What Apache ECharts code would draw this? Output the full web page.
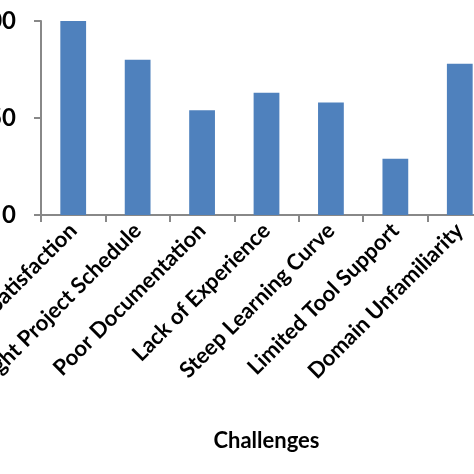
<!DOCTYPE html>
<html>
<head>
<meta charset="utf-8">
<script src="https://cdn.jsdelivr.net/npm/echarts@6/dist/echarts.min.js"></script>
<style>html,body{margin:0;padding:0;background:#fff}#c{width:474px;height:474px}</style>
</head>
<body>
<div id="c"></div>
<script>
var categories = ["Customer Satisfaction","Tight Project Schedule","Poor Documentation","Lack of Experience","Steep Learning Curve","Limited Tool Support","Domain Unfamiliarity"]
var values = [100, 80, 54, 63, 58, 29, 78]
var yTicks = [0, 50, 100]

var chart = echarts.init(document.getElementById("c"))
var font = "Lato, 'Open Sans', sans-serif"
chart.setOption({
  animation: false,
  grid: {left: 41, top: 21, bottom: 259, right: -18, containLabel: false, outerBoundsMode: "none"},
  xAxis: {
    type: "category",
    data: categories,
    name: "Challenges",
    nameLocation: "middle",
    nameGap: 215,
    nameTextStyle: {fontFamily: font, fontWeight: "bold", fontSize: 22, color: "#000"},
    axisLine: {lineStyle: {color: "#888", width: 2}},
    axisTick: {show: true, length: 7, lineStyle: {color: "#888", width: 2}},
    axisLabel: {rotate: 45, interval: 0, margin: 12, fontFamily: font, fontWeight: "bold", fontSize: 22, color: "#000"}
  },
  yAxis: {
    type: "value",
    min: yTicks[0], max: yTicks[2], interval: 50,
    splitLine: {show: false},
    axisLine: {show: true, lineStyle: {color: "#888", width: 2}},
    axisTick: {show: true, length: 7, lineStyle: {color: "#888", width: 2}},
    axisLabel: {margin: 25, fontFamily: font, fontWeight: "bold", fontSize: 24, color: "#000"}
  },
  series: [{type: "bar", data: values, barWidth: "40%", itemStyle: {color: "#4f81bd"}}]
})
</script>
</body>
</html>
